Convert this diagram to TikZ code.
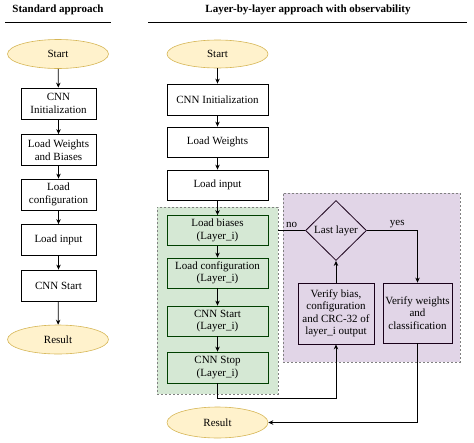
\documentclass[tikz,border=0pt]{standalone}
\usepackage{fontspec}
\setmainfont{Liberation Serif}
\usepackage{xcolor}
\usetikzlibrary{calc, shapes.geometric, arrows.meta}

\definecolor{termfill}{HTML}{FFF2CC}
\definecolor{termdraw}{HTML}{D6B656}
\definecolor{greenfill}{HTML}{D5E8D4}
\definecolor{purplefill}{HTML}{E1D5E7}

\tikzset{
    flow/.style={-{Stealth[length=5pt,width=4.5pt]}, line width=0.8pt},
    term/.style={ellipse, draw=termdraw, fill=termfill, line width=0.6pt,
        minimum width=101pt, minimum height=29pt, inner sep=0pt},
    stepbox/.style={rectangle, draw, line width=0.8pt, fill=white, align=center,
        inner sep=1pt, minimum height=30pt},
    layerbox/.style={stepbox, fill=greenfill, draw=black!75!green},
    checkbox/.style={stepbox, fill=purplefill, draw=black!80!violet},
    zone/.style={rectangle, draw=gray, line width=0.7pt, dash pattern=on 2pt off 2pt}
}

\begin{document}
\begin{tikzpicture}[x=1pt, y=-1pt, font=\fontsize{11}{12.5}\selectfont]

    \useasboundingbox (0,0) rectangle (474,442);

    % =================================================================
    % 1. TITLES AND RULES
    % =================================================================
    \node[font=\fontsize{11}{12.5}\selectfont\bfseries] (tstd) at (58,10) {Standard approach};
    \node[font=\fontsize{11}{12.5}\selectfont\bfseries] (tlbl) at (308,10) {Layer-by-layer approach with observability};
    \draw[line width=0.8pt] (5,22) -- (111,22);
    \draw[line width=0.8pt] (148,22) -- (467,22);

    % =================================================================
    % 2. STANDARD APPROACH (LEFT COLUMN)
    % =================================================================
    \node[term] (sstart) at (58,54) {Start};
    \node[stepbox, minimum width=75pt, minimum height=31pt] (sinit) at (58.5,103.5) {CNN\\Initialization};
    \node[stepbox, minimum width=75pt, minimum height=31pt] (sweights) at (58.5,150) {Load Weights\\and Biases};
    \node[stepbox, minimum width=75pt, minimum height=31pt] (sconf) at (58.5,194.5) {Load\\configuration};
    \node[stepbox, minimum width=75pt, minimum height=31pt] (sinput) at (58.5,240) {Load input};
    \node[stepbox, minimum width=75pt, minimum height=31pt] (scnn) at (58.5,285.5) {CNN Start};
    \node[term] (sresult) at (58,339.5) {Result};

    \draw[flow] (sstart) -- (sinit);
    \draw[flow] (sinit) -- (sweights);
    \draw[flow] (sweights) -- (sconf);
    \draw[flow] (sconf) -- (sinput);
    \draw[flow] (sinput) -- (scnn);
    \draw[flow] (scnn) -- (sresult);

    % =================================================================
    % 3. BACKGROUND ZONES (GREEN LOOP, PURPLE CHECKS)
    % =================================================================
    \node[zone, fill=greenfill, minimum width=121pt, minimum height=187pt] (gzone) at (217.5,300.5) {};
    \node[zone, fill=purplefill, minimum width=177pt, minimum height=169pt] (pzone) at (371.5,277.5) {};

    % =================================================================
    % 4. LAYER-BY-LAYER APPROACH (RIGHT PART)
    % =================================================================
    \node[term, minimum height=28pt] (lstart) at (217.5,54) {Start};
    \node[stepbox, minimum width=101pt, minimum height=31pt] (linit) at (217.5,99.5) {CNN Initialization};
    \node[stepbox, minimum width=101pt] (lweights) at (217.5,142) {Load Weights};
    \node[stepbox, minimum width=101pt] (linput) at (217.5,185) {Load input};

    \node[layerbox, minimum width=101pt] (lbias) at (217.5,230.5) {Load biases\\(Layer\_i)};
    \node[layerbox, minimum width=101pt] (lconf) at (217.5,273) {Load configuration\\(Layer\_i)};
    \node[layerbox, minimum width=101pt] (lcnn) at (217.5,321) {CNN Start\\(Layer\_i)};
    \node[layerbox, minimum width=101pt, minimum height=31pt] (lstop) at (217.5,367.5) {CNN Stop\\(Layer\_i)};

    \node[term, minimum height=31pt] (lresult) at (217.5,422.5) {Result};

    \node[diamond, draw=black!80!violet, line width=0.8pt, fill=purplefill, inner sep=1pt,
        minimum width=61pt, minimum height=60pt] (last) at (336,230.5) {Last layer};
    \node[checkbox, minimum width=76pt, minimum height=61pt] (vbias) at (336,313.5)
        {Verify bias,\\configuration\\and CRC-32 of\\layer\_i output};
    \node[checkbox, minimum width=69pt, minimum height=60pt] (vweights) at (417.5,313)
        {Verify weights\\and\\classification};

    \coordinate (turn) at (217.5,398);

    % =================================================================
    % 5. CONNECTORS
    % =================================================================
    \draw[flow] (lstart) -- (linit);
    \draw[flow] (linit) -- (lweights);
    \draw[flow] (lweights) -- (linput);
    \draw[flow] (linput) -- (lbias);
    \draw[flow] (lbias) -- (lconf);
    \draw[flow] (lconf) -- (lcnn);
    \draw[flow] (lcnn) -- (lstop);

    \draw[flow] (lstop.south) -- (turn) -| (vbias.south);
    \draw[flow] (vbias) -- (last);
    \draw[line width=0.8pt] (last.west) -- (last.west -| gzone.east)
        node[pos=0.5, above=-1pt] {no};
    \draw[flow] (last.east) -| (vweights.north)
        node[pos=0.3, above=-1pt] {yes};
    \draw[flow] (vweights.south) |- (lresult.east);

\end{tikzpicture}
\end{document}
